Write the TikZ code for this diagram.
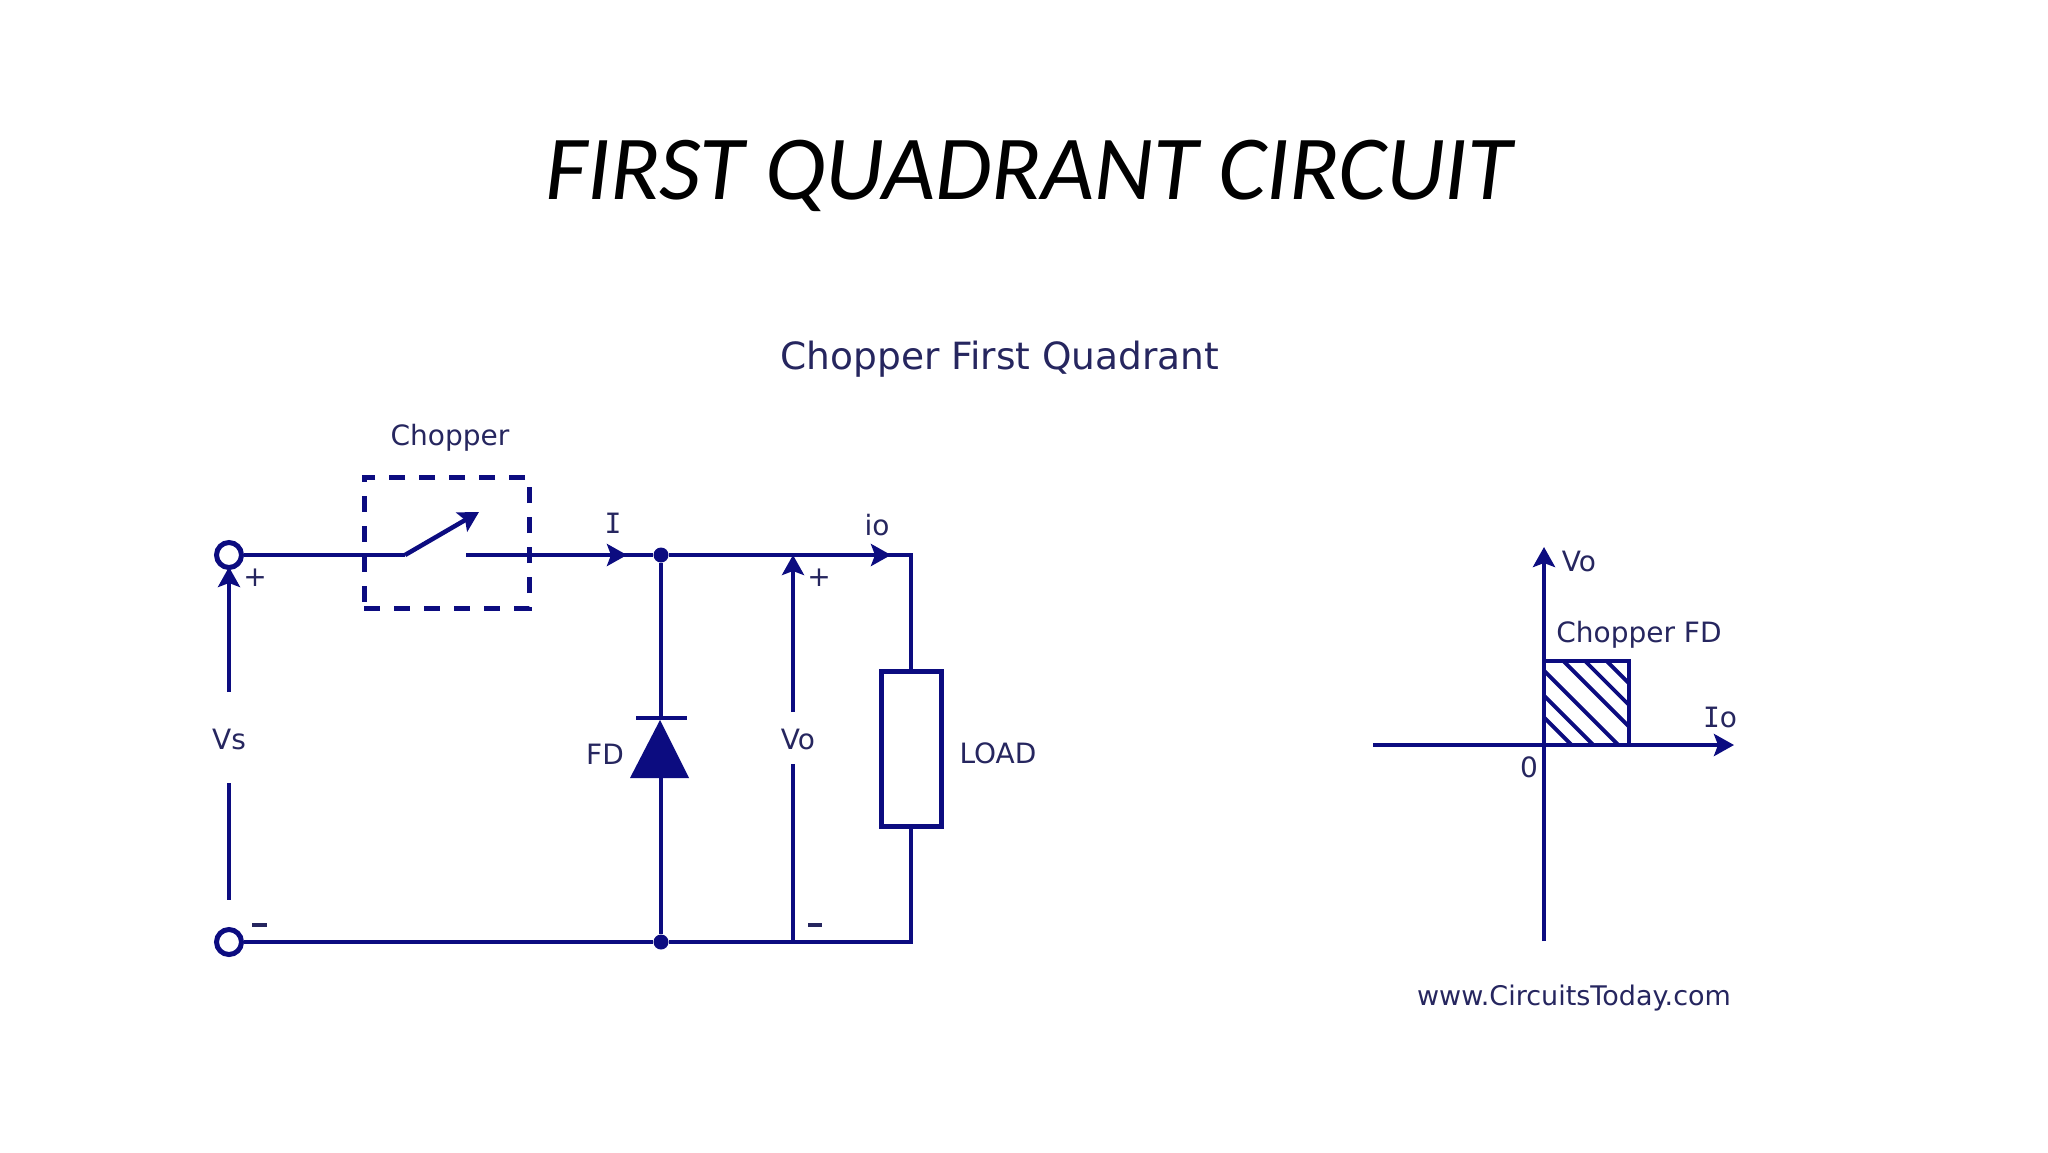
\documentclass[tikz,border=0pt]{standalone}
\usepackage{fontspec}
\setmainfont{DejaVu Sans}
\newfontfamily\titlefont{Carlito}
\newfontfamily\monoI{DejaVu Sans Mono}
\usetikzlibrary{arrows.meta}
\definecolor{wire}{HTML}{0C0C80}
\definecolor{lbl}{HTML}{26265F}
\tikzset{
 wireline/.style={draw=wire,line width=4.5pt},
 thinwire/.style={draw=wire,line width=3.8pt},
 tip/.style={-{Stealth[length=20pt,width=22pt,inset=4pt]}},
 terminal/.style={circle,draw=wire,line width=5pt,fill=white,minimum size=25pt,inner sep=0pt},
 junction/.style={circle,fill=wire,minimum size=15pt,inner sep=0pt},
 lab/.style={text=lbl,inner sep=0pt,font=\fontsize{28}{30}\selectfont},
 loadbox/.style={rectangle,draw=wire,line width=5pt,fill=white,minimum width=60pt,minimum height=155pt,inner sep=0pt},
 chopbox/.style={rectangle,draw=wire,line width=5pt,dash pattern=on 16pt off 14pt,minimum width=165pt,minimum height=131pt,inner sep=0pt}
}
\begin{document}
\begin{tikzpicture}[x=1pt,y=-1pt]
\useasboundingbox[fill=white] (0,0) rectangle (2048,1152);
% titles
\node[inner sep=0pt,font={\titlefont\itshape\fontsize{91.5}{96}\selectfont}] (title) at (1029,176) {FIRST QUADRANT CIRCUIT};
\node[lab,font=\fontsize{37.5}{40}\selectfont] (sub) at (1000,359) {Chopper First Quadrant};
% nodes and coordinates
\node[terminal] (t1) at (229,555) {};
\node[terminal] (t2) at (229,942) {};
\node[junction] (j1) at (661,555) {};
\node[junction] (j2) at (661,942) {};
\node[loadbox] (load) at (911,748.5) {};
\node[chopbox] (chop) at (446.5,542.5) {};
\coordinate (sw1) at (405,555);
\coordinate (swtip) at (479,512);
\coordinate (sw2) at (466,555);
\coordinate (itip) at (627,555);
\coordinate (iotip) at (891,555);
\coordinate (corner1) at (911,555);
\coordinate (corner2) at (911,942);
\coordinate (vsup) at (229,567);
\coordinate (vsa) at (229,692);
\coordinate (vsb) at (229,783);
\coordinate (vsc) at (229,900);
\coordinate (voup) at (793,555);
\coordinate (voa) at (793,712);
\coordinate (vob) at (793,764);
\coordinate (voc) at (793,942);
\coordinate (dbarl) at (636,718);
\coordinate (dbarr) at (687,718);
\coordinate (dtop) at (661,718);
\coordinate (dbot) at (661,777);
% wires
\draw[wireline] (t1) -- (sw1);
\draw[wireline,tip] (sw1) -- (swtip);
\draw[wireline] (sw2) -- (j1);
\draw[wireline,tip] (sw2) -- (itip);
\draw[wireline,line join=miter] (j1) -- (corner1) -- (load.north);
\draw[wireline,tip] (j1) -- (iotip);
\draw[wireline,line join=miter] (load.south) -- (corner2) -- (j2) -- (t2);
\draw[thinwire] (j1) -- (dtop);
\draw[thinwire] (dbot) -- (j2);
\fill[wire] (660,720) -- (689,778) -- (630,778) -- cycle;
\draw[thinwire] (dbarl) -- (dbarr);
\draw[thinwire,tip] (vsa) -- (vsup);
\draw[thinwire] (vsb) -- (vsc);
\draw[thinwire,tip] (voa) -- (voup);
\draw[thinwire] (vob) -- (voc);
% labels circuit
\node[lab] (chl) at (450,438) {Chopper};
\node[lab,font={\monoI\fontsize{28}{30}\selectfont}] (ilab) at (613,523) {I};
\node[lab] (iol) at (877,525) {io};
\node[lab] (vsl) at (229,739) {Vs};
\node[lab] (vol) at (798,739) {Vo};
\node[lab] (fdl) at (605,754) {FD};
\node[lab] (ldl) at (998,753) {LOAD};
\node[lab] (p1) at (255,578) {+};
\node[lab] (p2) at (819,578) {+};
\fill[lbl] (252,923) rectangle (267,927);
\fill[lbl] (808,923) rectangle (822,927);
% quadrant
\coordinate (yb) at (1544,941);
\coordinate (yt) at (1544,547);
\coordinate (xl) at (1373,745);
\coordinate (xr) at (1734,745);
\begin{scope}
\clip (1544,661) rectangle (1629,745);
\foreach \c in {20,85,160,247,312,377}{
  \draw[wire,line width=3.8pt] ({1350+590/3-20},{530+(590-\c)/3-20}) -- ({1350+590/3+120},{530+(590-\c)/3+120});
}
\end{scope}
\draw[wireline] (1544,661) -- (1629,661) -- (1629,745);
\draw[wireline,tip] (yb) -- (yt);
\draw[wireline,tip] (xl) -- (xr);
\node[lab] (qvo) at (1579,561) {Vo};
\node[lab] (qcf) at (1639,635) {Chopper FD};
\node[lab,font=\fontsize{28}{30}\selectfont] (qio) at (1720,717) {{\monoI I}o};
\node[lab] (q0) at (1529,767) {0};
\node[lab,font=\fontsize{27}{30}\selectfont] (www) at (1574,998) {www.CircuitsToday.com};
\end{tikzpicture}
\end{document}
